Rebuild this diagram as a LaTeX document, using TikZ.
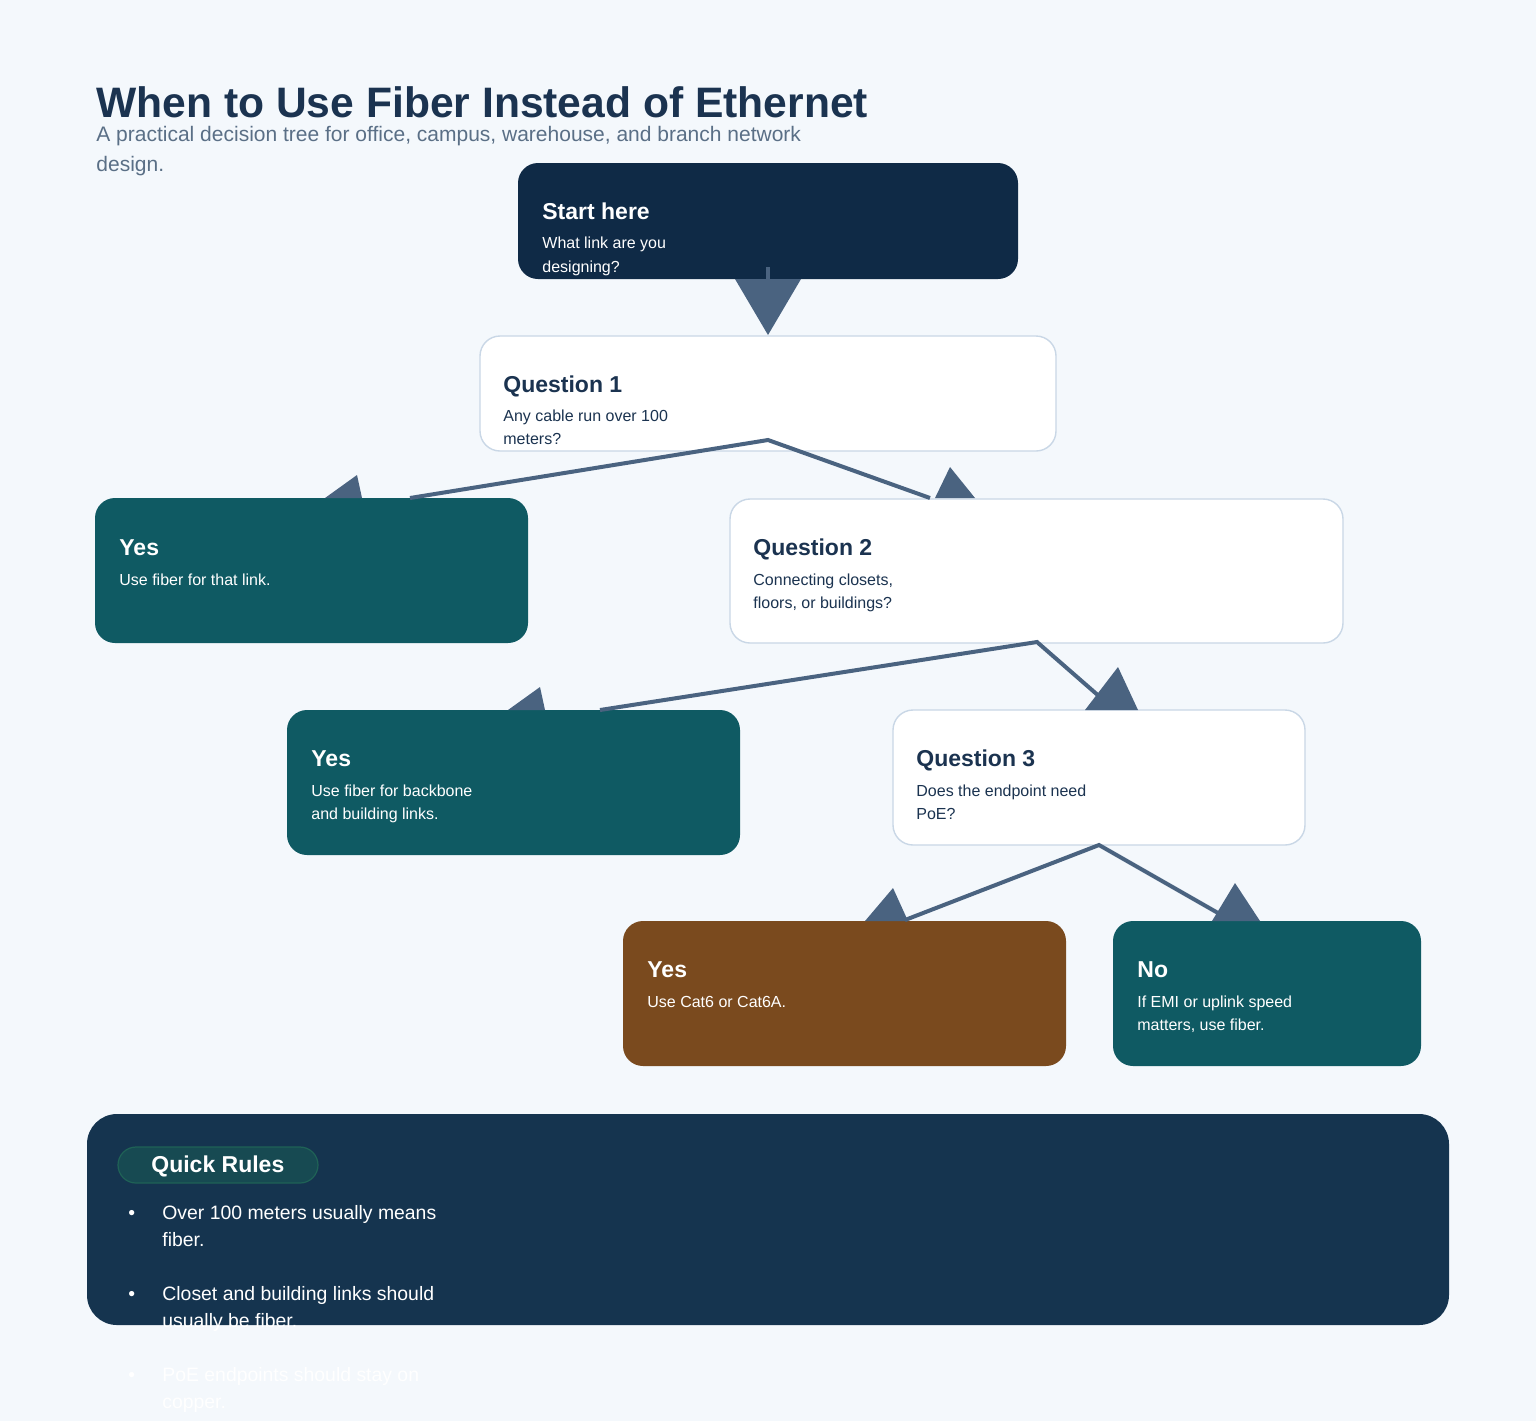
\documentclass[tikz,border=0pt]{standalone}
\usepackage{fontspec}
\setmainfont{Liberation Sans}
\definecolor{bg}{HTML}{F4F8FC}
\definecolor{navy}{HTML}{0F2A46}
\definecolor{ttl}{HTML}{1B3350}
\definecolor{sub}{HTML}{5A6F86}
\definecolor{teal}{HTML}{0F5A63}
\definecolor{brown}{HTML}{7A4A1E}
\definecolor{edge}{HTML}{C9D7E6}
\definecolor{arr}{HTML}{4A6380}
\definecolor{panel}{HTML}{15344F}
\definecolor{pill}{HTML}{174A52}
\definecolor{pillb}{HTML}{1F6256}
\begin{document}
\begin{tikzpicture}[x=0.5pt,y=-0.5pt,
  box/.style={rounded corners=10pt},
  qbox/.style={box,fill=white,draw=edge,line width=0.7pt},
  tbox/.style={box,fill=teal},
  hd/.style={anchor=base west,inner sep=0pt,font=\bfseries\fontsize{11.5}{13}\selectfont},
  bd/.style={anchor=base west,inner sep=0pt,font=\fontsize{8}{10}\selectfont},
  conn/.style={draw=arr,line width=2pt},
  tip/.style={fill=arr},
  ql/.style={anchor=base west,inner sep=0pt,font=\fontsize{9.7}{12}\selectfont,text=white}]
\fill[bg] (0,0) rectangle (1536,1421);
\useasboundingbox (0,0) rectangle (1536,1421);
\node[anchor=base west,inner sep=0pt,text=ttl,font=\bfseries\fontsize{21.3}{26}\selectfont] (title) at (96,117) {When to Use Fiber Instead of Ethernet};
\node[anchor=base west,inner sep=0pt,text=sub,font=\fontsize{10.5}{12}\selectfont] (sub1) at (96,141) {A practical decision tree for office, campus, warehouse, and branch network};
\node[anchor=base west,inner sep=0pt,text=sub,font=\fontsize{10.5}{12}\selectfont] (sub2) at (96,171) {design.};
% boxes
\path[box,fill=navy] (518,163) rectangle (1018,279);
\coordinate (sb) at (768,267);
\path[qbox] (480,336) rectangle (1056,451);
\path[tbox] (95,498) rectangle (528,643);
\path[qbox] (730,499) rectangle (1343,643);
\path[tbox] (287,710) rectangle (740,855);
\path[qbox] (893,710) rectangle (1305,845);
\path[box,fill=brown] (623,921) rectangle (1066,1066);
\path[tbox] (1113,921) rectangle (1421,1066);
% connectors
\coordinate (q1b) at (768,440);
\coordinate (y1t) at (410,498);
\coordinate (q2t) at (930,498);
\coordinate (q2b) at (1037,642);
\coordinate (y2t) at (600,710);
\coordinate (q3t) at (1100,697);
\coordinate (q3b) at (1099,845);
\coordinate (y3t) at (905,920);
\coordinate (not) at (1218,913);
\coordinate (sbe) at (768,282);
\draw[conn] (sb) -- (sbe);
\fill[tip] (735,279) -- (801,279) -- (768,335) -- cycle;
\draw[conn] (y1t) -- (q1b) -- (q2t);
\fill[tip] (325,498) -- (362,498) -- (357,475) -- cycle;
\fill[tip] (935,498) -- (975,498) -- (950,467) -- cycle;
\draw[conn] (y2t) -- (q2b) -- (q3t);
\fill[tip] (508,710) -- (545,710) -- (540,687) -- cycle;
\fill[tip] (1085,710) -- (1138,710) -- (1118,667) -- cycle;
\draw[conn] (y3t) -- (q3b) -- (not);
\fill[tip] (865,921) -- (908,921) -- (893,888) -- cycle;
\fill[tip] (1212,921) -- (1260,921) -- (1235,883) -- cycle;
% texts
\node[hd,text=white] (s1) at (542,219) {Start here};
\node[bd,text=white] (s2) at (542,248) {What link are you};
\node[bd,text=white] (s3) at (542,272) {designing?};
\node[hd,text=ttl] (a1) at (503,392) {Question 1};
\node[bd,text=ttl] (a2) at (503,421) {Any cable run over 100};
\node[bd,text=ttl] (a3) at (503,444) {meters?};
\node[hd,text=white] (b1) at (119,555) {Yes};
\node[bd,text=white] (b2) at (119,585) {Use fiber for that link.};
\node[hd,text=ttl] (c1) at (753,555) {Question 2};
\node[bd,text=ttl] (c2) at (753,585) {Connecting closets,};
\node[bd,text=ttl] (c3) at (753,608) {floors, or buildings?};
\node[hd,text=white] (d1) at (311,766) {Yes};
\node[bd,text=white] (d2) at (311,796) {Use fiber for backbone};
\node[bd,text=white] (d3) at (311,819) {and building links.};
\node[hd,text=ttl] (e1) at (916,766) {Question 3};
\node[bd,text=ttl] (e2) at (916,796) {Does the endpoint need};
\node[bd,text=ttl] (e3) at (916,819) {PoE?};
\node[hd,text=white] (f1) at (647,977) {Yes};
\node[bd,text=white] (f2) at (647,1007) {Use Cat6 or Cat6A.};
\node[hd,text=white] (g1) at (1137,977) {No};
\node[bd,text=white] (g2) at (1137,1007) {If EMI or uplink speed};
\node[bd,text=white] (g3) at (1137,1030) {matters, use fiber.};
% quick rules
\path[rounded corners=15pt,fill=panel] (87,1114) rectangle (1449,1325);
\path[rounded corners=9pt,fill=pill,draw=pillb,line width=0.6pt] (118,1147) rectangle (318,1183);
\node[anchor=base west,inner sep=0pt,text=white,font=\bfseries\fontsize{11.5}{13}\selectfont] (qr) at (151,1172) {Quick Rules};
\node[ql] (k1) at (128,1219) {•};
\node[ql] (l1) at (162,1219) {Over 100 meters usually means};
\node[ql] (l2) at (162,1246) {fiber.};
\node[ql] (k2) at (128,1300) {•};
\node[ql] (l3) at (162,1300) {Closet and building links should};
\node[ql] (l4) at (162,1327) {usually be fiber.};
\node[ql] (k3) at (128,1381) {•};
\node[ql] (l5) at (162,1381) {PoE endpoints should stay on};
\node[ql] (l6) at (162,1408) {copper.};
\end{tikzpicture}
\end{document}
